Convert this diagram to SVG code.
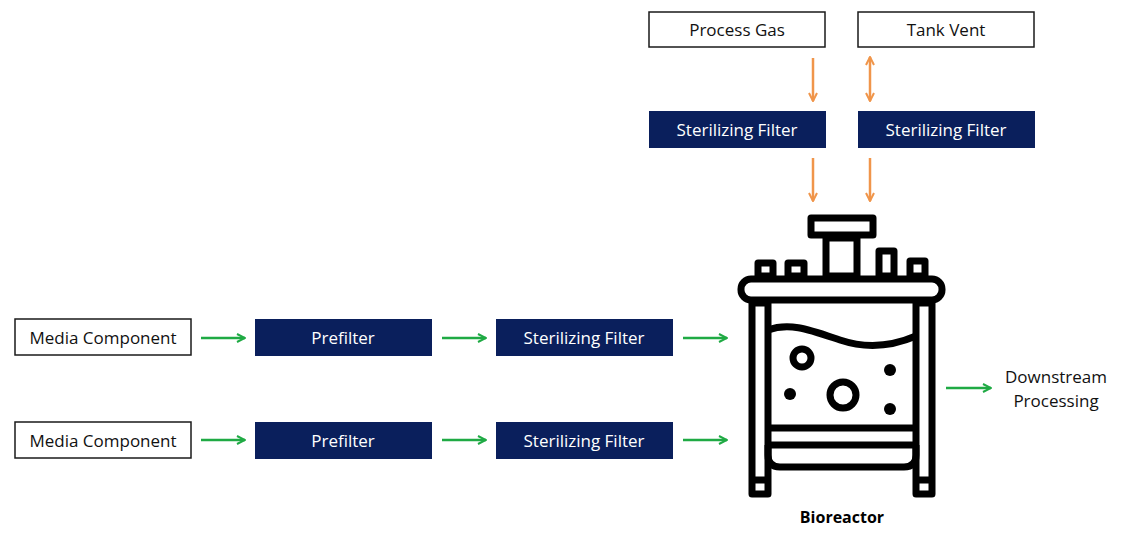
<svg xmlns="http://www.w3.org/2000/svg" width="1125" height="536" viewBox="0 0 1125 536">
<style>
.w{fill:#fff;stroke:#1a1a1a;stroke-width:1.5}
.b{fill:#0a1f5c}
.t{font-family:"Open Sans",sans-serif;font-size:17px;fill:#111;text-anchor:middle}
.tw{font-family:"Open Sans",sans-serif;font-size:17px;fill:#fff;text-anchor:middle}
.g{stroke:#1faa44;stroke-width:2.5;fill:none}
.o{stroke:#f0954a;stroke-width:2.5;fill:none}
.k{fill:none;stroke:#000;stroke-width:7;stroke-linejoin:round}
</style>
<defs>
<marker id="ag" viewBox="0 0 10 10" refX="9" refY="5" markerWidth="4" markerHeight="4" orient="auto-start-reverse"><path d="M1,1 L9,5 L1,9" fill="none" stroke="#1faa44" stroke-width="2"/></marker>
<marker id="ao" viewBox="0 0 10 10" refX="9" refY="5" markerWidth="4" markerHeight="4" orient="auto-start-reverse"><path d="M1,1 L9,5 L1,9" fill="none" stroke="#f0954a" stroke-width="2"/></marker>
</defs>
<rect width="1125" height="536" fill="#fff"/>
<g id="gas"><rect class="w" x="649" y="12" width="176" height="35"/><text class="t" x="737" y="36">Process Gas</text></g>
<g id="vent"><rect class="w" x="858" y="12" width="176" height="35"/><text class="t" x="946" y="36">Tank Vent</text></g>
<g id="sf3"><rect class="b" x="649" y="111" width="177" height="37"/><text class="tw" x="737" y="136">Sterilizing Filter</text></g>
<g id="sf4"><rect class="b" x="858" y="111" width="177" height="37"/><text class="tw" x="946" y="136">Sterilizing Filter</text></g>
<g id="mc1"><rect class="w" x="15" y="319" width="176" height="36"/><text class="t" x="103" y="344">Media Component</text></g>
<g id="mc2"><rect class="w" x="15" y="422" width="176" height="36"/><text class="t" x="103" y="447">Media Component</text></g>
<g id="pf1"><rect class="b" x="255" y="319" width="177" height="37"/><text class="tw" x="343" y="344">Prefilter</text></g>
<g id="pf2"><rect class="b" x="255" y="422" width="177" height="37"/><text class="tw" x="343" y="447">Prefilter</text></g>
<g id="sf1"><rect class="b" x="496" y="319" width="177" height="37"/><text class="tw" x="584" y="344">Sterilizing Filter</text></g>
<g id="sf2"><rect class="b" x="496" y="422" width="177" height="37"/><text class="tw" x="584" y="447">Sterilizing Filter</text></g>
<g id="down"><text class="t" x="1056" y="383">Downstream</text><text class="t" x="1056" y="407">Processing</text></g>
<g id="bioreactor">
<rect class="k" x="811" y="218" width="62" height="17"/>
<rect class="k" x="826" y="238" width="31" height="38"/>
<rect class="k" x="758" y="263" width="15" height="13"/>
<rect class="k" x="788" y="263" width="16" height="13"/>
<rect class="k" x="879" y="251" width="15" height="25"/>
<rect class="k" x="910" y="261" width="15" height="15"/>
<rect class="k" x="741" y="279" width="201" height="21" rx="10"/>
<rect class="k" x="752" y="303" width="16" height="191"/>
<rect class="k" x="916" y="303" width="16" height="191"/>
<path class="k" d="M752,480 H768 M916,480 H932"/>
<path class="k" d="M768,330 C790,322 810,330 840,340 C870,350 895,345 916,336"/>
<path class="k" d="M768,428 H916 M768,445 H916"/>
<path class="k" d="M768,445 V455 Q768,467 780,467 H904 Q916,467 916,455 V445"/>
<circle class="k" cx="802" cy="358" r="9" stroke-width="6"/>
<circle class="k" cx="843" cy="395" r="13" stroke-width="6"/>
<circle cx="790" cy="394" r="6"/>
<circle cx="890" cy="370" r="6"/>
<circle cx="890" cy="409" r="6"/>
<text x="842" y="523" style="font-family:'Open Sans',sans-serif;font-size:16px;font-weight:bold;text-anchor:middle">Bioreactor</text>
</g>
<g id="connectors">
<path class="o" marker-end="url(#ao)" d="M813,58 V101"/>
<path class="o" marker-start="url(#ao)" marker-end="url(#ao)" d="M870,57 V101"/>
<path class="o" marker-end="url(#ao)" d="M813,158 V201"/>
<path class="o" marker-end="url(#ao)" d="M870,158 V201"/>
<path class="g" marker-end="url(#ag)" d="M201,338 H245"/>
<path class="g" marker-end="url(#ag)" d="M442,338 H486"/>
<path class="g" marker-end="url(#ag)" d="M683,338 H727"/>
<path class="g" marker-end="url(#ag)" d="M201,440 H245"/>
<path class="g" marker-end="url(#ag)" d="M442,440 H486"/>
<path class="g" marker-end="url(#ag)" d="M683,440 H727"/>
<path class="g" marker-end="url(#ag)" d="M946,388 H991"/>
</g>
</svg>
